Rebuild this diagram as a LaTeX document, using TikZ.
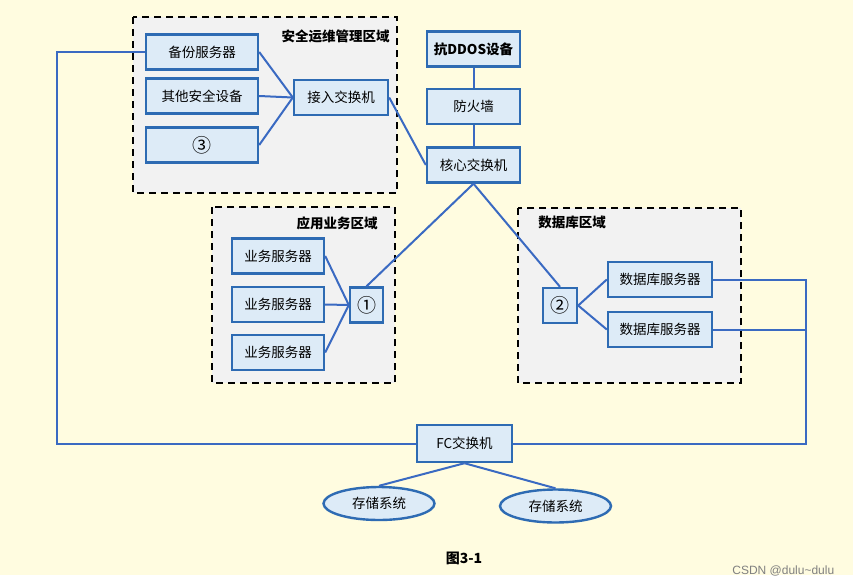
\documentclass[tikz,border=0pt]{standalone}
\usepackage{fontspec}
\setmainfont{Noto Sans CJK SC}
\newfontfamily\csdnfont{Liberation Sans}
\usetikzlibrary{shapes.geometric}

\begin{document}
\begin{tikzpicture}[x=1pt, y=-1pt, thick, font=\fontsize{13.5}{15}\selectfont]

  % Colors
  \definecolor{bgyellow}{HTML}{FFFCE0}
  \definecolor{zonegray}{HTML}{F2F2F2}
  \definecolor{boxblue}{HTML}{DDEBF7}
  \definecolor{edgeblue}{HTML}{2E6BB3}
  \definecolor{wireblue}{HTML}{3A6AC2}

  \def\boxh{35} % height of a device box
  \def\busx{806} % x of the right storage bus

  \tikzset{
    dev/.style={draw=edgeblue, line width=2.4pt, fill=boxblue, minimum height=\boxh, inner sep=0pt},
    zone/.style={draw=black, line width=2.2pt, dash pattern=on 7pt off 5pt, fill=zonegray},
    wire/.style={draw=wireblue, line width=2pt},
    store/.style={ellipse, draw=edgeblue, line width=2.4pt, fill=boxblue, minimum width=111, minimum height=33, inner sep=0pt},
    zonelabel/.style={font=\fontsize{13.5}{15}\selectfont\bfseries, inner sep=0pt},
    circnum/.style={font=\fontsize{19}{20}\selectfont},
  }

  % Background
  \useasboundingbox (0,0) rectangle (853,586);
  \fill[bgyellow] (0,0) rectangle (853,575);
  \fill[white] (0,575) rectangle (853,586);

  % Zones
  \draw[zone] (133,17) rectangle (397,193);
  \node[zonelabel, anchor=east] (seclabel) at (390,36) {安全运维管理区域};
  \draw[zone] (212,207) rectangle (395,383);
  \node[zonelabel, anchor=east] (applabel) at (378,223) {应用业务区域};
  \draw[zone] (518,208) rectangle (741,383);
  \node[zonelabel, anchor=west] (dblabel) at (538,222) {数据库区域};

  % PART 1: security management zone
  \node[dev, minimum width=112] (bak) at (202,52) {备份服务器};
  \node[dev, minimum width=112] (other) at (202,96) {其他安全设备};
  \node[dev, minimum width=112, circnum] (three) at (202,145) {③};
  \node[dev, minimum width=94] (access) at (341,97.5) {接入交换机};
  \foreach \n in {bak,other,three}
    \draw[wire] (\n.east) -- (access.west);

  % PART 2: perimeter and core
  \node[dev, minimum width=93, font=\fontsize{13.5}{15}\selectfont\bfseries] (ddos) at (473.5,49) {抗DDOS设备};
  \node[dev, minimum width=93] (fw) at (473.5,106.5) {防火墙};
  \node[dev, minimum width=93] (core) at (473.5,165) {核心交换机};
  \draw[wire] (ddos) -- (fw);
  \draw[wire] (fw) -- (core);
  \draw[wire] (access.east) -- (core.west);

  % PART 3: application zone
  \node[dev, minimum width=33, circnum] (one) at (366.5,305) {①};
  \foreach \i/\y in {1/256, 2/304.5, 3/352.5} {
    \node[dev, minimum width=92] (biz\i) at (278,\y) {业务服务器};
    \draw[wire] (biz\i.east) -- (one.west);
  }
  \draw[wire] (core.south) -- (one.north);

  % PART 4: database zone
  \node[dev, minimum width=34, circnum] (two) at (560,305.5) {②};
  \foreach \i/\y in {1/279.5, 2/329.5} {
    \node[dev, minimum width=104] (db\i) at (660,\y) {数据库服务器};
    \draw[wire] (two.east) -- (db\i.west);
  }
  \draw[wire] (core.south) -- (two.north);

  % PART 5: FC switch and storage
  \node[dev, minimum width=95, minimum height=37] (fc) at (464.5,443.5) {FC交换机};
  \node[store] (st1) at (379,503.5) {存储系统};
  \node[store] (st2) at (555.5,506) {存储系统};
  \draw[wire] (fc.south) -- (st1.north);
  \draw[wire] (fc.south) -- (st2.north);

  % Buses to the FC switch
  \coordinate (rbus) at (\busx,279.5);
  \draw[wire] (bak.west) -- ++(-88,0) |- (fc.west);
  \draw[wire] (db1.east) -- (rbus) |- (fc.east);
  \draw[wire] (db2.east) -- (db2.east -| rbus);

  % Caption
  \node[font=\fontsize{14}{15}\selectfont\bfseries] (caption) at (464,558) {图3-1};
  \node[font=\csdnfont\fontsize{12}{14}\selectfont, text=gray, anchor=east] (csdn) at (838,571) {CSDN @dulu\textasciitilde dulu};

\end{tikzpicture}
\end{document}
